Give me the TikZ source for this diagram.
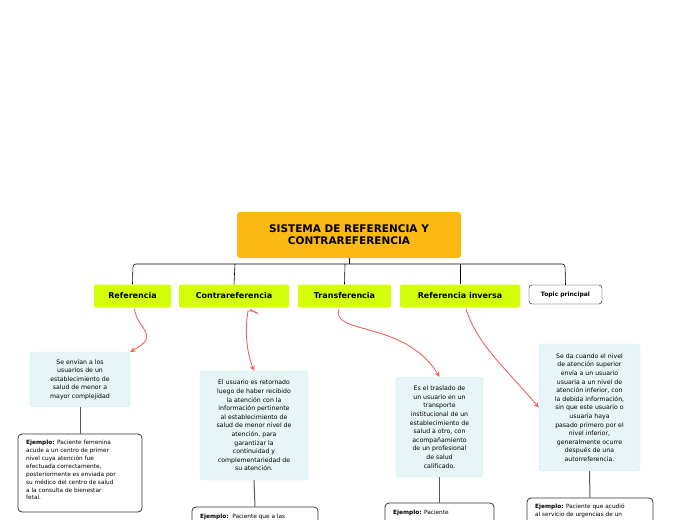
\documentclass[tikz,border=0pt]{standalone}
\usepackage{fontspec}
\usetikzlibrary{arrows.meta}
\setmainfont{DejaVu Sans}
\begin{document}
\begin{tikzpicture}[x=1pt,y=-1pt,
  title/.style={fill=titleC,rounded corners=3pt,font=\bfseries\fontsize{10.5}{12}\selectfont,align=center,minimum width=224pt,minimum height=46pt,inner sep=0},
  sub/.style={fill=limeC,rounded corners=2pt,font=\bfseries\fontsize{8}{9}\selectfont,minimum height=23pt,inner sep=0},
  desc/.style={fill=blueF,draw=blueD,rounded corners=3pt,font=\fontsize{6.2}{8.6}\selectfont,align=center,inner sep=0},
  ex/.style={draw=black!80,line width=0.8pt,rounded corners=4pt,font=\fontsize{5.8}{8.2}\selectfont,align=left,inner sep=0},
  arr/.style={draw=redC,line width=0.9pt,-{Stealth[length=5pt,width=5pt]}},
  tree/.style={draw=black,line width=0.6pt},
  gray/.style={draw=black!65,line width=1pt}]
\definecolor{titleC}{HTML}{FDB913}
\definecolor{limeC}{HTML}{D4FF0A}
\definecolor{blueF}{HTML}{E6F6F7}
\definecolor{blueD}{HTML}{BCEDEE}
\definecolor{redC}{HTML}{F0625A}
\useasboundingbox (0,0) rectangle (697,520);
\clip (0,0) rectangle (697,520);
\node[title] (t) at (349,235) {SISTEMA DE REFERENCIA Y\\CONTRAREFERENCIA};
\node[sub,minimum width=77pt] (a) at (132.5,296) {Referencia};
\node[sub,minimum width=110pt] (b) at (234,296) {Contrareferencia};
\node[sub,minimum width=93pt] (c) at (344.5,296) {Transferencia};
\node[sub,minimum width=120pt] (d) at (460,296) {Referencia inversa};
\node[draw=black,fill=white,rounded corners=3pt,font=\bfseries\fontsize{6}{7}\selectfont,minimum width=73pt,minimum height=19pt,inner sep=0] (e) at (565.5,294.5) {Topic principal};
\coordinate (j) at (349,264);
\draw[tree] (t.south) -- (j);
\draw[tree,rounded corners=3pt] (a.north) -- (133,264) -- (565,264) -- (e.north);
\draw[tree] (235,264) -- (b.north);
\draw[tree] (345,264) -- (c.north);
\draw[tree] (460,264) -- (d.north);
\node[desc,minimum width=100pt,minimum height=55pt] (d1) at (80,379.5) {Se envían a los\\usuarios de un\\establecimiento de\\salud de menor a\\mayor complejidad};
\node[desc,minimum width=108pt,minimum height=109pt] (d2) at (254,425.5) {El usuario es retornado\\luego de haber recibido\\la atención con la\\información pertinente\\al establecimiento de\\salud de menor nivel de\\atención, para\\garantizar la\\continuidad y\\complementariedad de\\su atención.};
\node[desc,minimum width=87pt,minimum height=100pt] (d3) at (439.5,427) {Es el traslado de\\un usuario en un\\transporte\\institucional de un\\establecimiento de\\salud a otro, con\\acompañamiento\\de un profesional\\de salud\\calificado.};
\node[desc,minimum width=101pt,minimum height=127pt] (d4) at (589.5,407.5) {Se da cuando el nivel\\de atención superior\\envía a un usuario\\usuaria a un nivel de\\atención inferior, con\\la debida información,\\sin que este usuario o\\usuaria haya\\pasado primero por el\\nivel inferior,\\generalmente ocurre\\después de una\\autorreferencia.};
\draw[arr] (a.south) ++(2,1) .. controls (137,330) and (162,335) .. (d1.north east);
\draw[arr] (250,309) .. controls (262,318) and (258,310) .. (248,311) .. controls (245,330) and (246,350) .. (d2.north);
\draw[arr] (339,309) .. controls (330,335) and (405,320) .. (d3.north);
\draw[arr] (466,309) .. controls (478,345) and (500,362) .. (d4.west);
\node[ex,minimum width=124pt,minimum height=78pt] (x1) at (80,473) {};
\node[font=\fontsize{5.8}{7.9}\selectfont,align=left,anchor=north west,inner sep=0] at (26,440) {\textbf{Ejemplo:} Paciente femenina\\acude a un centro de primer\\nivel cuya atención fue\\efectuada correctamente,\\posteriormente es enviada por\\su médico del centro de salud\\a la consulta de bienestar\\fetal.};
\node[ex,minimum width=126pt,minimum height=40pt] (x2) at (255,527) {};
\node[font=\fontsize{5.8}{7.9}\selectfont,anchor=north west,inner sep=0] at (200,514) {\textbf{Ejemplo:}\ \ Paciente que a las};
\node[ex,minimum width=109pt,minimum height=40pt] (x3) at (439.5,523) {};
\node[font=\fontsize{5.8}{7.9}\selectfont,anchor=north west,inner sep=0] at (393,510) {\textbf{Ejemplo:} Paciente};
\node[ex,minimum width=126pt,minimum height=40pt] (x4) at (590,518) {};
\node[font=\fontsize{5.8}{7.9}\selectfont,align=left,anchor=north west,inner sep=0] at (535,504) {\textbf{Ejemplo:} Paciente que acudió\\al servicio de urgencias de un};
\draw[gray] (d1.south) -- (x1.north);
\draw[gray] (d2.south) -- (x2.north);
\draw[gray] (d3.south) -- (x3.north);
\draw[gray] (d4.south) -- (x4.north);
\end{tikzpicture}
\end{document}
